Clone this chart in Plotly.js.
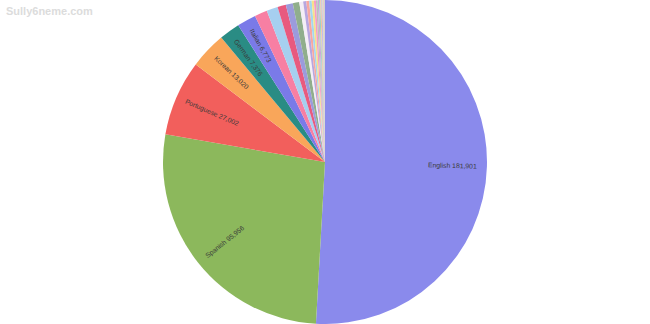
<!DOCTYPE html>
<html>
<head>
<meta charset="utf-8">
<script src="https://cdn.plot.ly/plotly-3.0.1.min.js"></script>
<style>html,body{margin:0;padding:0;background:#fff;}#chart{width:650px;height:324px;}</style>
</head>
<body>
<div id="chart"></div>
<script>
const languages = ["English","Spanish","Portuguese","Korean","German","Italian","French","Japanese","Russian","Turkish","Chinese","Polish","Dutch","Indonesian","Arabic","Vietnamese","Thai","Swedish","Czech","Romanian","Hungarian","Greek","Finnish","Danish","Norwegian","Hebrew"];
const counts = [181901,95956,27002,13020,7376,6773,4500,4000,3000,2500,2300,1400,1100,1000,900,800,700,600,500,450,400,350,300,250,200,150];
const colors = ["#8a8aec","#8cb85c","#f25f5c","#f9a65a","#2a8c84","#7a7ae8","#f77fa3","#a6cff0","#e85a7f","#9b9bdc","#90ae8c","#f4eef6","#b7a7e0","#f7a7a0","#a4d7ef","#f5e28a","#f59bc6","#b9c4b8","#c8a8d8","#9fd3c0","#f6c29a","#b0b0f0","#d4e6a8","#e8b0c8","#a8c8e8","#c9c99a"];

const W = 650, H = 324;
const labelFont = {family: "Liberation Sans, Arial, sans-serif", size: 6.8, color: "#3a3a3a"};

// radial inside labels, placed along each slice's mid-angle and pushed toward the rim
const total = counts.reduce((a, b) => a + b, 0);
const R = Math.min(W, H) / 2, cx = W / 2, cy = H / 2;
const ctx = document.createElement("canvas").getContext("2d");
ctx.font = labelFont.size + "px 'Liberation Sans'";
const fmt = v => v.toLocaleString("en-US");
const annotations = [];
let cum = 0;
counts.forEach((v, i) => {
  const frac = v / total;
  const mid = (cum + frac / 2) * 360;
  cum += frac;
  if (frac < 0.015) return;
  const txt = languages[i] + " " + fmt(v);
  const w = ctx.measureText(txt).width;
  const rc = R - 10.5 - w / 2;
  const rad = mid * Math.PI / 180;
  const px = cx + rc * Math.sin(rad), py = cy - rc * Math.cos(rad);
  const ang = mid < 180 ? mid - 90 : mid - 270;
  annotations.push({
    text: txt, xref: "paper", yref: "paper", x: px / W, y: 1 - py / H,
    xanchor: "center", yanchor: "middle", showarrow: false, textangle: ang,
    font: labelFont
  });
});
annotations.push({
  text: "<b>Sully6neme.com</b>",
  xref: "paper", yref: "paper", x: 0.006, y: 0.99,
  xanchor: "left", yanchor: "top", showarrow: false,
  font: {family: "Liberation Sans, Arial, sans-serif", size: 11, color: "#dcdcdc"}
});

Plotly.newPlot("chart", [{
  type: "pie",
  labels: languages,
  values: counts,
  sort: false,
  direction: "clockwise",
  rotation: 0,
  textinfo: "none",
  marker: {colors: colors, line: {width: 0}},
  hoverinfo: "none"
}], {
  width: W, height: H,
  margin: {l: 0, r: 0, t: 0, b: 0},
  showlegend: false,
  paper_bgcolor: "#fff",
  annotations: annotations
}, {displayModeBar: false, staticPlot: true});
</script>
</body>
</html>
